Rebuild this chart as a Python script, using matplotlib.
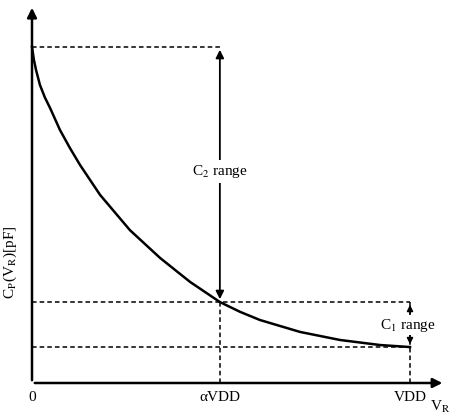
import numpy as np
import matplotlib.pyplot as plt

plt.rcParams['font.family'] = ['Liberation Serif', 'DejaVu Serif']
plt.rcParams['mathtext.fontset'] = 'stix'

# curve (x in units of VDD, y normalised to C max)
vr = [0.0, 0.005, 0.0106, 0.021, 0.034, 0.048, 0.074, 0.10, 0.127, 0.18, 0.259,
      0.339, 0.418, 0.497, 0.55, 0.603, 0.709, 0.815, 0.921, 1.0]
cp = [1.0, 0.962, 0.932, 0.887, 0.85, 0.818, 0.753, 0.70, 0.649, 0.56, 0.455,
      0.372, 0.301, 0.241, 0.212, 0.1875, 0.152, 0.128, 0.113, 0.107]
alpha = 0.497
c_max, c_alpha, c_min = 1.0, 0.241, 0.107
xticks = [0, alpha, 1.0]
xlabels = ['0', 'αVDD', 'VDD']

fig = plt.figure(figsize=(4.74, 4.15), dpi=100)
ax = fig.add_axes([0, 0, 1, 1])
ax.set_xlim(-32 / 378, 442 / 378)
ax.set_ylim(-32 / 336, 383 / 336)
ax.axis('off')

# axes with arrows
ax.annotate('', xy=(0, 1.125), xytext=(0, 0),
            arrowprops=dict(arrowstyle='-|>', color='k', lw=1.8, mutation_scale=14))
ax.annotate('', xy=(1.093, 0), xytext=(0, 0),
            arrowprops=dict(arrowstyle='-|>', color='k', lw=1.8, mutation_scale=14))

ax.plot(vr, cp, color='k', lw=1.8, solid_joinstyle='round')

dash = dict(color='k', ls=(0, (3, 2)), lw=1.1)
ax.plot([0, alpha], [c_max, c_max], **dash)
ax.plot([0, 1.0], [c_alpha, c_alpha], **dash)
ax.plot([0, 1.0], [c_min, c_min], **dash)
ax.plot([alpha, alpha], [0, c_alpha], **dash)
ax.plot([1.0, 1.0], [0, c_alpha], **dash)

ax.annotate('', xy=(alpha, c_max), xytext=(alpha, c_alpha),
            arrowprops=dict(arrowstyle='<|-|>', color='k', lw=1.3, mutation_scale=12))
ax.annotate('', xy=(1.0, c_alpha), xytext=(1.0, c_min),
            arrowprops=dict(arrowstyle='<|-|>', color='k', lw=1.1, mutation_scale=9))

ax.text(alpha, 0.63, 'C$_2$ range', ha='center', va='center', fontsize=11,
        bbox=dict(facecolor='white', edgecolor='none', pad=2))
ax.text(0.995, 0.172, 'C$_1$ range', ha='center', va='center', fontsize=11,
        bbox=dict(facecolor='white', edgecolor='none', pad=1))

for x, lab in zip(xticks, xlabels):
    ax.text(x, -0.042, lab, ha='center', va='center', fontsize=11)
ax.text(1.08, -0.072, 'V$_\\mathrm{R}$', ha='center', va='center', fontsize=11)
ax.text(-0.058, 0.36, 'C$_\\mathrm{P}$(V$_\\mathrm{R}$)[pF]', rotation=90,
        ha='center', va='center', fontsize=11)

fig.savefig('out.png', dpi=100)
